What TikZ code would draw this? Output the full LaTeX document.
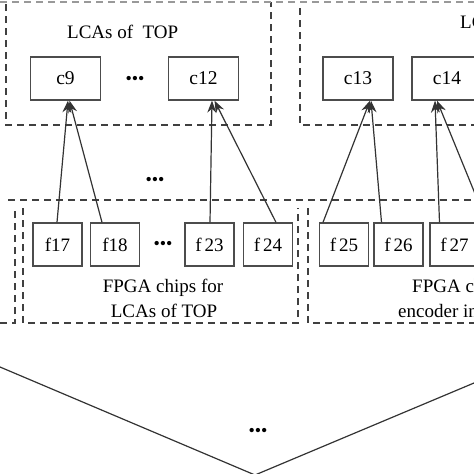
\documentclass[tikz,border=0pt]{standalone}
\usepackage{fontspec}
\setmainfont{Liberation Serif}
\usetikzlibrary{arrows.meta,calc}
\begin{document}
\begin{tikzpicture}[x=1pt,y=-1pt,
  chip/.style={draw=black!70,line width=1.3pt,rectangle,minimum width=70pt,minimum height=43pt,inner sep=0pt,font=\fontsize{19.5}{22}\selectfont},
  fchip/.style={chip,minimum width=49pt,font=\fontsize{19}{22}\selectfont},
  grp/.style={draw=black!75,line width=1.2pt,dash pattern=on 7pt off 5pt},
  arr/.style={draw=black!80,line width=1.2pt,-{Stealth[length=12pt,width=9pt]}},
  lbl/.style={font=\fontsize{19}{22}\selectfont,inner sep=0pt},
  dots/.style={font=\fontsize{18}{20}\selectfont,inner sep=0pt}
]
\useasboundingbox (0,0) rectangle (474,474);
\begin{scope}
\clip (0,0) rectangle (474,474);
% top group boxes
\draw[grp] (6,4) -- (6,125) -- (271,125) -- (271,2);
\draw[grp] (300,8) -- (300,125) -- (480,125);
\draw[grp,draw=black!40] (0,2) -- (480,2);
\node[lbl,anchor=base west] (tl) at (67,38) {LCAs of~ TOP};
\node[lbl,anchor=base west] (tr) at (460,28) {LCAs of};
% top chips
\node[chip] (c9) at (65.5,78.5) {c9};
\node[chip] (c12) at (203.5,78.5) {c12};
\node[chip] (c13) at (358,78.5) {c13};
\node[chip] (c14) at (447,78.5) {c14};
\node[dots] (d1) at (135,80) {•••};
\node[dots] (d2) at (155,181) {•••};
% bottom group boxes
\draw[grp] (8,200) -- (480,200);
\draw[grp] (0,323) -- (15,323) -- (15,208);
\draw[grp] (23,208) -- (23,323) -- (298,323) -- (298,208);
\draw[grp] (308,208) -- (308,323) -- (480,323);
% f chips
\node[fchip] (f17) at (57.5,244.5) {f17};
\node[fchip] (f18) at (115,244.5) {f18};
\node[dots] (d3) at (163,245) {•••};
\node[fchip] (f23) at (209.5,244.5) {f\,23};
\node[fchip] (f24) at (268,244.5) {f\,24};
\node[fchip] (f25) at (344,244.5) {f\,25};
\node[fchip] (f26) at (398.5,244.5) {f\,26};
\node[fchip] (f27) at (454.5,244.5) {f\,27};
\node[lbl,anchor=base] (g1) at (163,292) {FPGA chips for};
\node[lbl,anchor=base] (g2) at (164,317) {LCAs of TOP};
\node[lbl,anchor=base west] (g3) at (412,292) {FPGA chips for};
\node[lbl,anchor=base west] (g4) at (398,317) {encoder in};
% arrows
\draw[arr] ([xshift=-0.5pt]f17.north) -- ([xshift=2.5pt]c9.south);
\draw[arr] ([xshift=-13pt]f18.north) -- ([xshift=4pt]c9.south);
\draw[arr] ([xshift=0.5pt]f23.north) -- ([xshift=8.5pt]c12.south);
\draw[arr] ([xshift=8pt]f24.north) -- ([xshift=11pt]c12.south);
\draw[arr] ([xshift=-21pt]f25.north) -- ([xshift=12pt]c13.south);
\draw[arr] ([xshift=-17pt]f26.north) -- ([xshift=13pt]c13.south);
\draw[arr] ([xshift=-15pt]f27.north) -- ([xshift=-12pt]c14.south);
\coordinate (f28) at (487,223);
\draw[arr] (f28) -- ([xshift=-10pt]c14.south);
% bottom V
\coordinate (vl) at (0,367);
\coordinate (vb) at (255,475);
\coordinate (vr) at (474,383);
\draw[draw=black!80,line width=1.2pt] (vl) -- (vb) -- (vr);
\node[dots] (d4) at (258,432) {•••};
\end{scope}
\end{tikzpicture}
\end{document}
